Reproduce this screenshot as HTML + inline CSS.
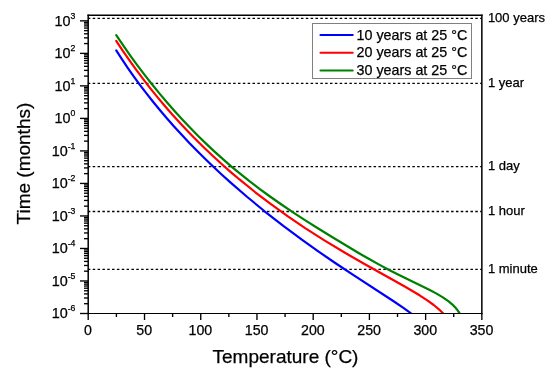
<!DOCTYPE html>
<html><head><meta charset="utf-8"><title>Time vs Temperature</title><style>
html,body{margin:0;padding:0;background:#fff;}
body{width:550px;height:373px;overflow:hidden;}
svg{display:block;}
text{font-family:"Liberation Sans",Arial,sans-serif;fill:#000;stroke:#000;stroke-width:0.25px;}
</style></head><body>
<svg width="550" height="373" viewBox="0 0 550 373">
<defs><clipPath id="pa"><rect x="88.20" y="15.20" width="393.65" height="298.10"/></clipPath></defs>

<g stroke="#000" stroke-width="1.3" stroke-dasharray="2.5,2.343" fill="none">
<line x1="87.85" y1="18.28" x2="481.85" y2="18.28"/>
<line x1="87.85" y1="83.31" x2="481.85" y2="83.31"/>
<line x1="87.85" y1="166.64" x2="481.85" y2="166.64"/>
<line x1="87.85" y1="211.52" x2="481.85" y2="211.52"/>
<line x1="87.85" y1="269.33" x2="481.85" y2="269.33"/>
</g>
<g clip-path="url(#pa)" fill="none" stroke-width="2.2" stroke-linecap="round" stroke-linejoin="round">
<path d="M116.24,50.45L121.89,59.18L127.70,67.80L133.69,76.33L139.88,84.80L146.26,93.20L152.83,101.52L159.61,109.80L166.60,118.02L173.81,126.21L181.23,134.34L188.86,142.44L196.72,150.50L204.81,158.53L213.10,166.51L221.64,174.46L230.39,182.38L247.27,197.02L264.91,211.52L283.31,225.89L302.51,240.15L318.28,251.37L334.86,262.75L353.54,275.16L393.62,301.21L403.77,308.11L411.97,314.03" stroke="#0000ff"/>
<path d="M116.21,40.86L122.68,50.60L129.30,60.20L136.09,69.65L143.02,78.92L150.13,88.07L157.41,97.07L164.86,105.94L172.48,114.66L180.27,123.26L188.23,131.70L196.38,140.04L204.70,148.22L213.19,156.28L221.89,164.23L230.76,172.05L239.81,179.73L255.29,192.26L271.30,204.47L287.91,216.40L305.17,228.10L324.40,240.39L344.96,252.80L364.93,264.29L404.74,286.58L419.58,295.32L427.31,300.34L433.74,305.01L439.20,309.56L443.82,314.11" stroke="#ff0000"/>
<path d="M116.22,35.14L123.19,45.44L130.25,55.51L137.39,65.33L144.61,74.90L151.94,84.25L159.36,93.39L166.88,102.29L174.52,111.01L182.28,119.52L190.17,127.85L198.17,135.97L206.30,143.90L214.55,151.64L222.93,159.18L231.45,166.55L240.09,173.71L249.75,181.40L259.83,189.06L270.37,196.75L281.44,204.50L293.01,212.31L305.34,220.34L318.65,228.76L333.70,238.03L359.03,253.21L369.59,259.28L379.61,264.84L389.13,269.91L398.58,274.74L429.26,289.67L436.61,293.63L442.87,297.40L446.13,299.58L448.99,301.69L451.53,303.78L453.80,305.91L455.84,308.10L457.62,310.34L459.14,312.62L460.41,314.98" stroke="#008000"/>
</g>
<g stroke="#000" stroke-width="1.35" fill="none">
<line x1="80" y1="313.5" x2="88.2" y2="313.5"/>
<line x1="84" y1="303.71" x2="88.2" y2="303.71"/>
<line x1="84" y1="297.99" x2="88.2" y2="297.99"/>
<line x1="84" y1="293.92" x2="88.2" y2="293.92"/>
<line x1="84" y1="290.77" x2="88.2" y2="290.77"/>
<line x1="84" y1="288.2" x2="88.2" y2="288.2"/>
<line x1="84" y1="286.02" x2="88.2" y2="286.02"/>
<line x1="84" y1="284.13" x2="88.2" y2="284.13"/>
<line x1="84" y1="282.47" x2="88.2" y2="282.47"/>
<line x1="80" y1="280.98" x2="88.2" y2="280.98"/>
<line x1="84" y1="271.19" x2="88.2" y2="271.19"/>
<line x1="84" y1="265.47" x2="88.2" y2="265.47"/>
<line x1="84" y1="261.41" x2="88.2" y2="261.41"/>
<line x1="84" y1="258.26" x2="88.2" y2="258.26"/>
<line x1="84" y1="255.68" x2="88.2" y2="255.68"/>
<line x1="84" y1="253.5" x2="88.2" y2="253.5"/>
<line x1="84" y1="251.62" x2="88.2" y2="251.62"/>
<line x1="84" y1="249.95" x2="88.2" y2="249.95"/>
<line x1="80" y1="248.47" x2="88.2" y2="248.47"/>
<line x1="84" y1="238.68" x2="88.2" y2="238.68"/>
<line x1="84" y1="232.95" x2="88.2" y2="232.95"/>
<line x1="84" y1="228.89" x2="88.2" y2="228.89"/>
<line x1="84" y1="225.74" x2="88.2" y2="225.74"/>
<line x1="84" y1="223.16" x2="88.2" y2="223.16"/>
<line x1="84" y1="220.99" x2="88.2" y2="220.99"/>
<line x1="84" y1="219.1" x2="88.2" y2="219.1"/>
<line x1="84" y1="217.44" x2="88.2" y2="217.44"/>
<line x1="80" y1="215.95" x2="88.2" y2="215.95"/>
<line x1="84" y1="206.16" x2="88.2" y2="206.16"/>
<line x1="84" y1="200.44" x2="88.2" y2="200.44"/>
<line x1="84" y1="196.37" x2="88.2" y2="196.37"/>
<line x1="84" y1="193.22" x2="88.2" y2="193.22"/>
<line x1="84" y1="190.65" x2="88.2" y2="190.65"/>
<line x1="84" y1="188.47" x2="88.2" y2="188.47"/>
<line x1="84" y1="186.58" x2="88.2" y2="186.58"/>
<line x1="84" y1="184.92" x2="88.2" y2="184.92"/>
<line x1="80" y1="183.43" x2="88.2" y2="183.43"/>
<line x1="84" y1="173.64" x2="88.2" y2="173.64"/>
<line x1="84" y1="167.92" x2="88.2" y2="167.92"/>
<line x1="84" y1="163.86" x2="88.2" y2="163.86"/>
<line x1="84" y1="160.71" x2="88.2" y2="160.71"/>
<line x1="84" y1="158.13" x2="88.2" y2="158.13"/>
<line x1="84" y1="155.95" x2="88.2" y2="155.95"/>
<line x1="84" y1="154.07" x2="88.2" y2="154.07"/>
<line x1="84" y1="152.4" x2="88.2" y2="152.4"/>
<line x1="80" y1="150.92" x2="88.2" y2="150.92"/>
<line x1="84" y1="141.13" x2="88.2" y2="141.13"/>
<line x1="84" y1="135.4" x2="88.2" y2="135.4"/>
<line x1="84" y1="131.34" x2="88.2" y2="131.34"/>
<line x1="84" y1="128.19" x2="88.2" y2="128.19"/>
<line x1="84" y1="125.61" x2="88.2" y2="125.61"/>
<line x1="84" y1="123.44" x2="88.2" y2="123.44"/>
<line x1="84" y1="121.55" x2="88.2" y2="121.55"/>
<line x1="84" y1="119.89" x2="88.2" y2="119.89"/>
<line x1="80" y1="118.4" x2="88.2" y2="118.4"/>
<line x1="84" y1="108.61" x2="88.2" y2="108.61"/>
<line x1="84" y1="102.89" x2="88.2" y2="102.89"/>
<line x1="84" y1="98.82" x2="88.2" y2="98.82"/>
<line x1="84" y1="95.67" x2="88.2" y2="95.67"/>
<line x1="84" y1="93.1" x2="88.2" y2="93.1"/>
<line x1="84" y1="90.92" x2="88.2" y2="90.92"/>
<line x1="84" y1="89.03" x2="88.2" y2="89.03"/>
<line x1="84" y1="87.37" x2="88.2" y2="87.37"/>
<line x1="80" y1="85.88" x2="88.2" y2="85.88"/>
<line x1="84" y1="76.09" x2="88.2" y2="76.09"/>
<line x1="84" y1="70.37" x2="88.2" y2="70.37"/>
<line x1="84" y1="66.31" x2="88.2" y2="66.31"/>
<line x1="84" y1="63.16" x2="88.2" y2="63.16"/>
<line x1="84" y1="60.58" x2="88.2" y2="60.58"/>
<line x1="84" y1="58.4" x2="88.2" y2="58.4"/>
<line x1="84" y1="56.52" x2="88.2" y2="56.52"/>
<line x1="84" y1="54.85" x2="88.2" y2="54.85"/>
<line x1="80" y1="53.37" x2="88.2" y2="53.37"/>
<line x1="84" y1="43.58" x2="88.2" y2="43.58"/>
<line x1="84" y1="37.85" x2="88.2" y2="37.85"/>
<line x1="84" y1="33.79" x2="88.2" y2="33.79"/>
<line x1="84" y1="30.64" x2="88.2" y2="30.64"/>
<line x1="84" y1="28.06" x2="88.2" y2="28.06"/>
<line x1="84" y1="25.89" x2="88.2" y2="25.89"/>
<line x1="84" y1="24.0" x2="88.2" y2="24.0"/>
<line x1="84" y1="22.34" x2="88.2" y2="22.34"/>
<line x1="80" y1="20.85" x2="88.2" y2="20.85"/>
<line x1="88.2" y1="313.3" x2="88.2" y2="320"/>
<line x1="144.52" y1="313.3" x2="144.52" y2="320"/>
<line x1="200.74" y1="313.3" x2="200.74" y2="320"/>
<line x1="256.96" y1="313.3" x2="256.96" y2="320"/>
<line x1="313.19" y1="313.3" x2="313.19" y2="320"/>
<line x1="369.41" y1="313.3" x2="369.41" y2="320"/>
<line x1="425.63" y1="313.3" x2="425.63" y2="320"/>
<line x1="481.85" y1="313.3" x2="481.85" y2="320"/>
<line x1="116.41" y1="313.3" x2="116.41" y2="317"/>
<line x1="172.63" y1="313.3" x2="172.63" y2="317"/>
<line x1="228.85" y1="313.3" x2="228.85" y2="317"/>
<line x1="285.08" y1="313.3" x2="285.08" y2="317"/>
<line x1="341.3" y1="313.3" x2="341.3" y2="317"/>
<line x1="397.52" y1="313.3" x2="397.52" y2="317"/>
<line x1="453.74" y1="313.3" x2="453.74" y2="317"/>
</g>
<g stroke="#000" fill="none" stroke-linecap="square">
<line x1="88.2" y1="15.2" x2="481.85" y2="15.2" stroke-width="1.5"/>
<line x1="88.2" y1="15.2" x2="88.2" y2="313.5" stroke-width="1.5"/>
<line x1="481.85" y1="15.2" x2="481.85" y2="313.5" stroke-width="1.5"/>
<line x1="88.2" y1="313.5" x2="481.85" y2="313.5" stroke-width="1.1"/>
</g>
<rect x="312.5" y="23.5" width="159" height="55" stroke="#808080" stroke-width="1" fill="none"/>
<line x1="320.5" y1="35.05" x2="352.7" y2="35.05" stroke="#0000ff" stroke-width="2.1" stroke-linecap="round"/>
<text x="356.6" y="39.65" font-size="14.3">10 years at 25 °C</text>
<line x1="320.5" y1="52.75" x2="352.7" y2="52.75" stroke="#ff0000" stroke-width="2.1" stroke-linecap="round"/>
<text x="356.6" y="57.35" font-size="14.3">20 years at 25 °C</text>
<line x1="320.5" y1="70.45" x2="352.7" y2="70.45" stroke="#008000" stroke-width="2.1" stroke-linecap="round"/>
<text x="356.6" y="75.05" font-size="14.3">30 years at 25 °C</text>
<text x="75.4" y="318.45" font-size="14.4" text-anchor="end">10<tspan dy="-6.3" font-size="8.7">-</tspan><tspan dy="-0.7" font-size="8.7">6</tspan></text>
<text x="75.4" y="285.93" font-size="14.4" text-anchor="end">10<tspan dy="-6.3" font-size="8.7">-</tspan><tspan dy="-0.7" font-size="8.7">5</tspan></text>
<text x="75.4" y="253.42" font-size="14.4" text-anchor="end">10<tspan dy="-6.3" font-size="8.7">-</tspan><tspan dy="-0.7" font-size="8.7">4</tspan></text>
<text x="75.4" y="220.90" font-size="14.4" text-anchor="end">10<tspan dy="-6.3" font-size="8.7">-</tspan><tspan dy="-0.7" font-size="8.7">3</tspan></text>
<text x="75.4" y="188.38" font-size="14.4" text-anchor="end">10<tspan dy="-6.3" font-size="8.7">-</tspan><tspan dy="-0.7" font-size="8.7">2</tspan></text>
<text x="75.4" y="155.87" font-size="14.4" text-anchor="end">10<tspan dy="-6.3" font-size="8.7">-</tspan><tspan dy="-0.7" font-size="8.7">1</tspan></text>
<text x="75.4" y="123.35" font-size="14.4" text-anchor="end">10<tspan dy="-7.0" font-size="8.7">0</tspan></text>
<text x="75.4" y="90.83" font-size="14.4" text-anchor="end">10<tspan dy="-7.0" font-size="8.7">1</tspan></text>
<text x="75.4" y="58.32" font-size="14.4" text-anchor="end">10<tspan dy="-7.0" font-size="8.7">2</tspan></text>
<text x="75.4" y="25.80" font-size="14.4" text-anchor="end">10<tspan dy="-7.0" font-size="8.7">3</tspan></text>
<text x="88.00" y="334.9" font-size="14.2" text-anchor="middle">0</text>
<text x="144.22" y="334.9" font-size="14.2" text-anchor="middle">50</text>
<text x="200.44" y="334.9" font-size="14.2" text-anchor="middle">100</text>
<text x="256.66" y="334.9" font-size="14.2" text-anchor="middle">150</text>
<text x="312.89" y="334.9" font-size="14.2" text-anchor="middle">200</text>
<text x="369.11" y="334.9" font-size="14.2" text-anchor="middle">250</text>
<text x="425.33" y="334.9" font-size="14.2" text-anchor="middle">300</text>
<text x="481.55" y="334.9" font-size="14.2" text-anchor="middle">350</text>
<text x="487.9" y="21.63" font-size="13">100 years</text>
<text x="487.9" y="86.66" font-size="13">1 year</text>
<text x="487.9" y="169.99" font-size="13">1 day</text>
<text x="487.9" y="214.87" font-size="13">1 hour</text>
<text x="487.9" y="272.68" font-size="13">1 minute</text>
<text x="285.5" y="362.9" font-size="19" text-anchor="middle">Temperature (°C)</text>
<text transform="translate(30.2,163.6) rotate(-90)" font-size="19" text-anchor="middle">Time (months)</text>
</svg>
</body></html>
